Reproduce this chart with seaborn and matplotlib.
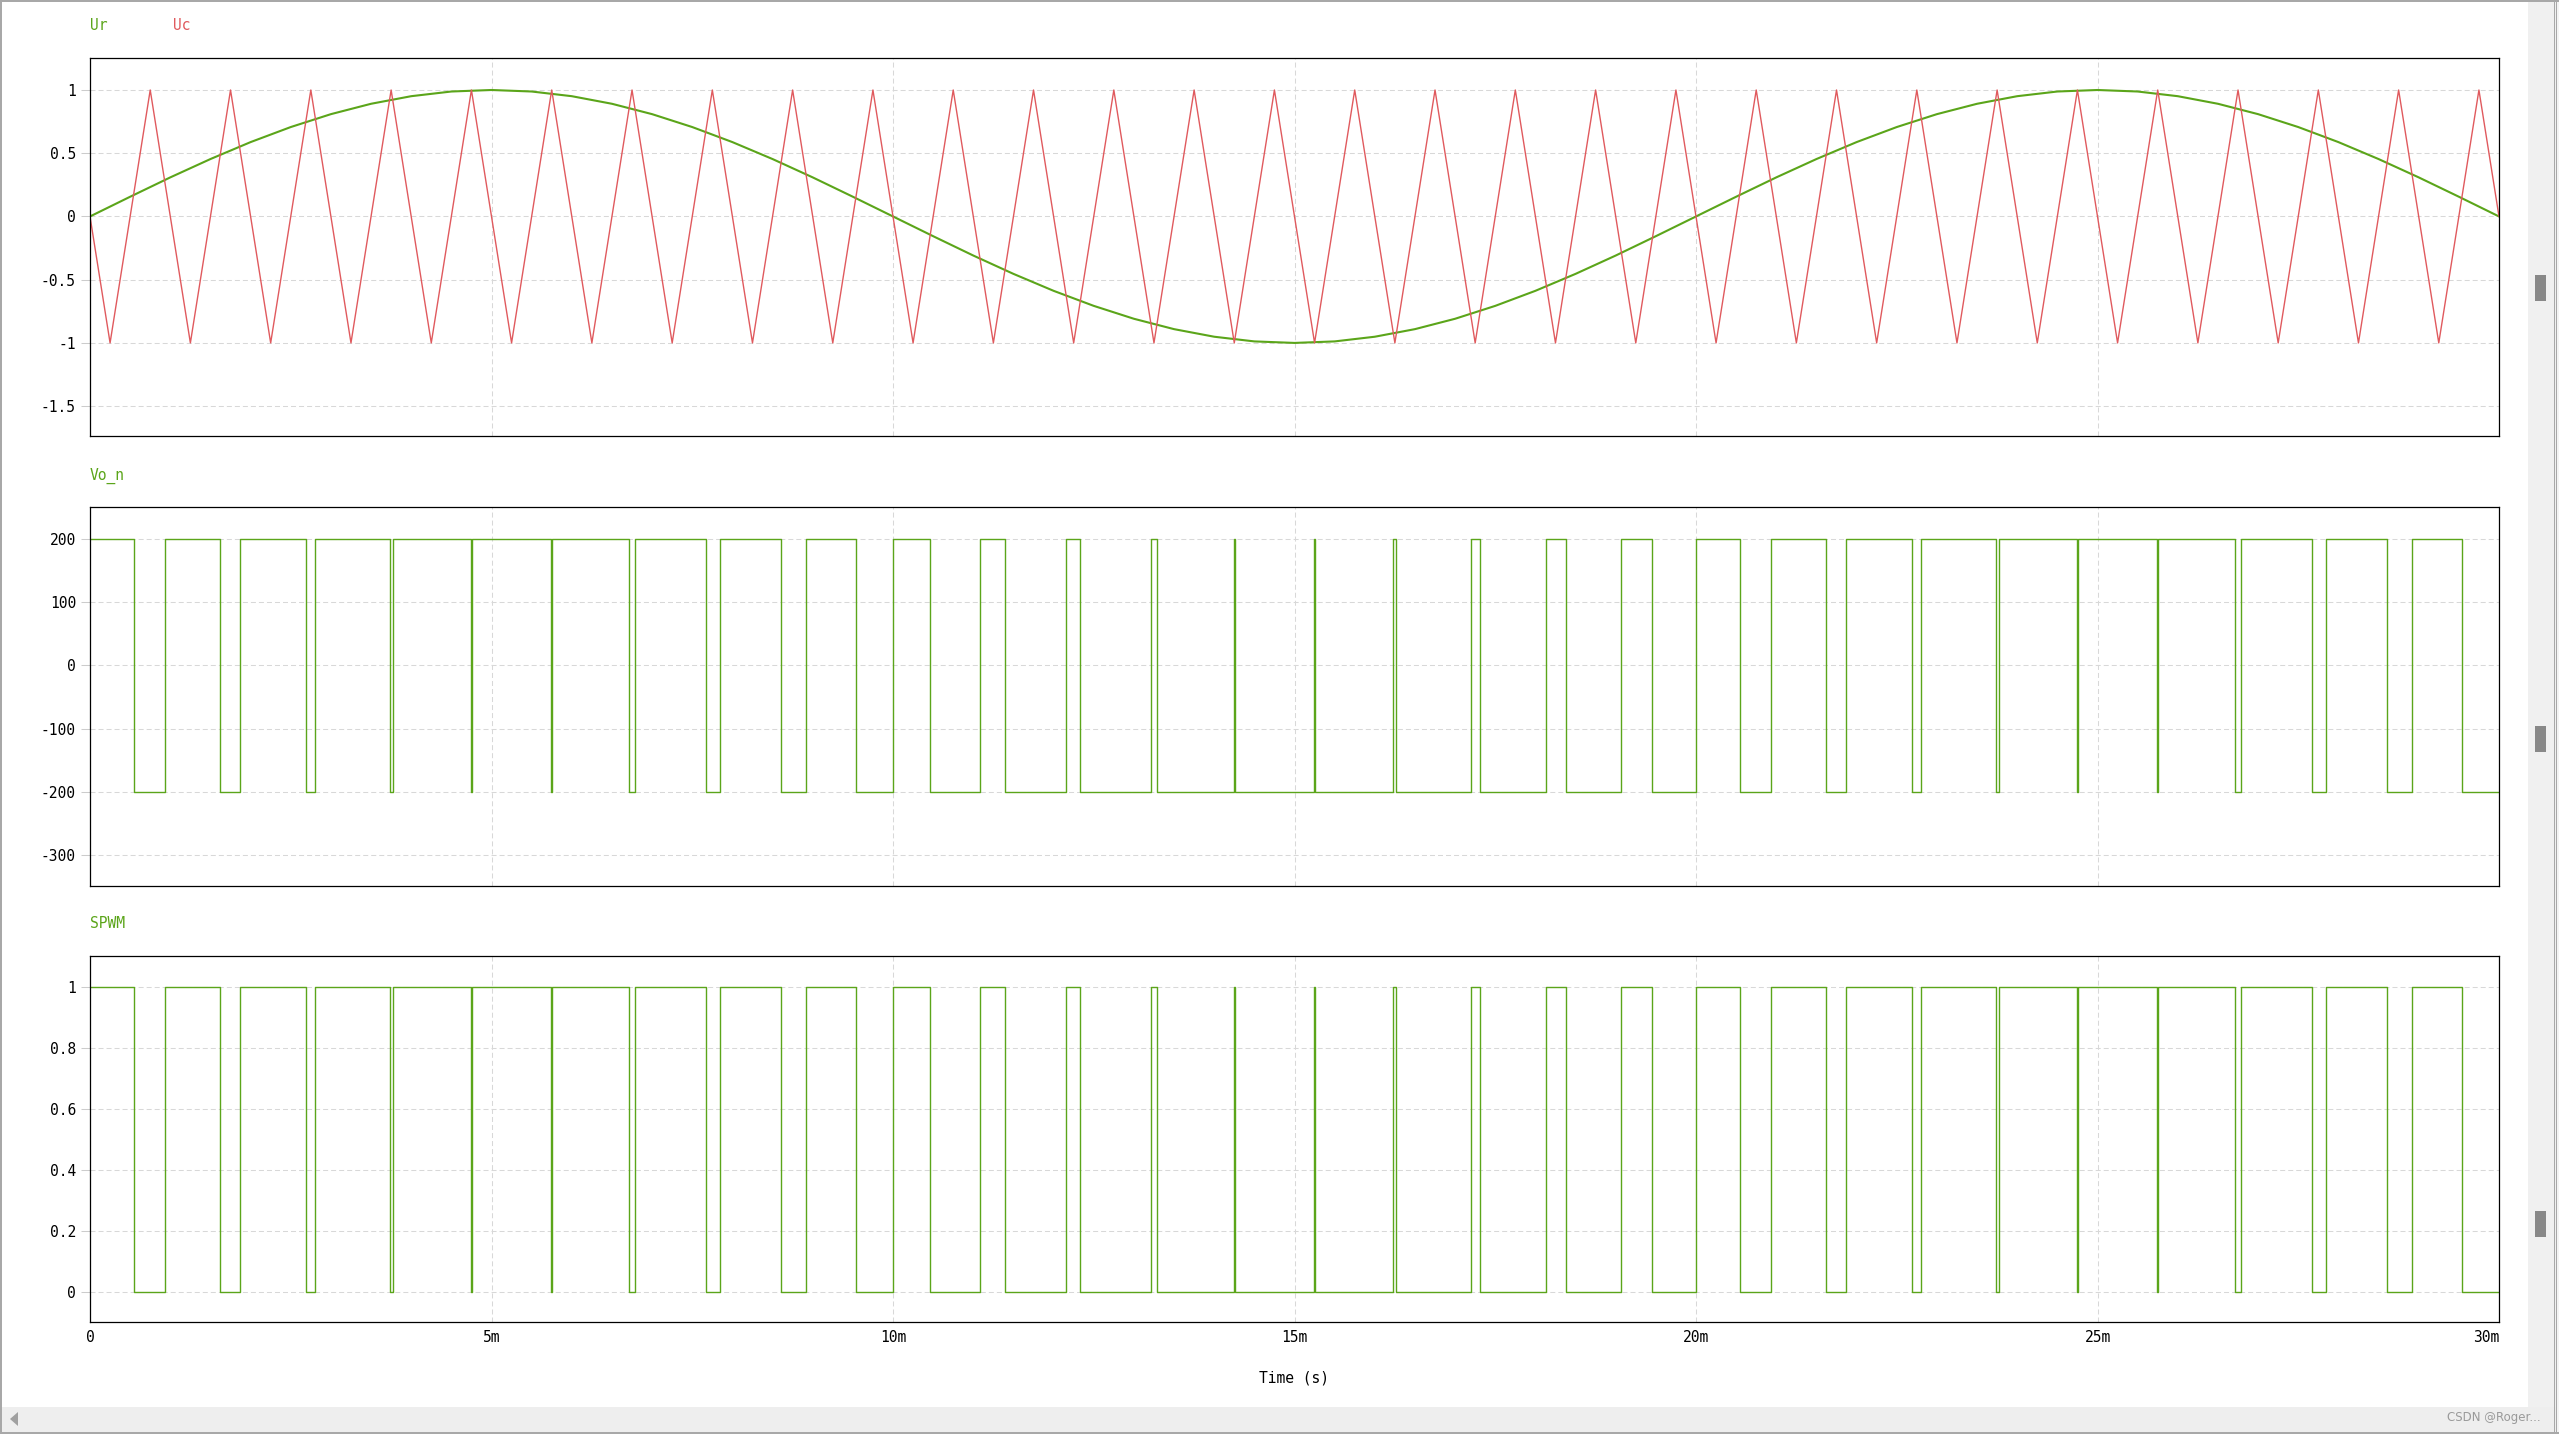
import matplotlib
matplotlib.use("Agg")
import matplotlib.pyplot as plt
from matplotlib.patches import Rectangle, Polygon
import numpy as np
import pandas as pd
import seaborn as sns

# ---------------- data (time in ms) ----------------
ur_time_ms = [0, 0.5, 1, 1.5, 2, 2.5, 3, 3.5, 4, 4.5, 5, 5.5, 6, 6.5, 7, 7.5, 8, 8.5, 9, 9.5,
              10, 10.5, 11, 11.5, 12, 12.5, 13, 13.5, 14, 14.5, 15, 15.5, 16, 16.5, 17, 17.5,
              18, 18.5, 19, 19.5, 20, 20.5, 21, 21.5, 22, 22.5, 23, 23.5, 24, 24.5, 25, 25.5,
              26, 26.5, 27, 27.5, 28, 28.5, 29, 29.5, 30]
ur_values = [0, 0.156, 0.309, 0.454, 0.588, 0.707, 0.809, 0.891, 0.951, 0.988,
             1.0, 0.988, 0.951, 0.891, 0.809, 0.707, 0.588, 0.454, 0.309, 0.156,
             0, -0.156, -0.309, -0.454, -0.588, -0.707, -0.809, -0.891, -0.951, -0.988,
             -1.0, -0.988, -0.951, -0.891, -0.809, -0.707, -0.588, -0.454, -0.309, -0.156,
             0, 0.156, 0.309, 0.454, 0.588, 0.707, 0.809, 0.891, 0.951, 0.988,
             1.0, 0.988, 0.951, 0.891, 0.809, 0.707, 0.588, 0.454, 0.309, 0.156, 0]

uc_time_ms = [0, 0.25, 0.75, 1.25, 1.75, 2.25, 2.75, 3.25, 3.75, 4.25, 4.75, 5.25, 5.75,
              6.25, 6.75, 7.25, 7.75, 8.25, 8.75, 9.25, 9.75, 10.25, 10.75, 11.25, 11.75,
              12.25, 12.75, 13.25, 13.75, 14.25, 14.75, 15.25, 15.75, 16.25, 16.75, 17.25,
              17.75, 18.25, 18.75, 19.25, 19.75, 20.25, 20.75, 21.25, 21.75, 22.25, 22.75,
              23.25, 23.75, 24.25, 24.75, 25.25, 25.75, 26.25, 26.75, 27.25, 27.75, 28.25,
              28.75, 29.25, 29.75, 30]
uc_values = [0,
             -1, 1, -1, 1, -1, 1, -1, 1, -1, 1, -1, 1, -1, 1, -1, 1, -1, 1, -1, 1,
             -1, 1, -1, 1, -1, 1, -1, 1, -1, 1, -1, 1, -1, 1, -1, 1, -1, 1, -1, 1,
             -1, 1, -1, 1, -1, 1, -1, 1, -1, 1, -1, 1, -1, 1, -1, 1, -1, 1, -1, 1,
             0]

# switching instants of the SPWM signal (ms)
spwm_fall_ms = [0.542, 1.622, 2.687, 3.730, 4.749, 5.743, 6.715, 7.667, 8.606, 9.536,
                10.464, 11.394, 12.333, 13.285, 14.257, 15.251, 16.270, 17.313, 18.378, 19.458,
                20.542, 21.622, 22.687, 23.730, 24.749, 25.743, 26.715, 27.667, 28.606, 29.536]
spwm_rise_ms = [0.928, 1.862, 2.807, 3.768, 4.751, 5.757, 6.788, 7.843, 8.917, 10.000,
                11.083, 12.157, 13.212, 14.243, 15.249, 16.232, 17.193, 18.138, 19.072, 20.000,
                20.928, 21.862, 22.807, 23.768, 24.751, 25.757, 26.788, 27.843, 28.917]
spwm_levels = [1, 0]
von_levels = [200, -200]

x_ticks = [0, 5, 10, 15, 20, 25, 30]
x_tick_labels = ["0", "5m", "10m", "15m", "20m", "25m", "30m"]
top_yticks = [1, 0.5, 0, -0.5, -1, -1.5]
top_ylabels = ["1", "0.5", "0", "-0.5", "-1", "-1.5"]
mid_yticks = [200, 100, 0, -100, -200, -300]
mid_ylabels = ["200", "100", "0", "-100", "-200", "-300"]
bot_yticks = [1, 0.8, 0.6, 0.4, 0.2, 0]
bot_ylabels = ["1", "0.8", "0.6", "0.4", "0.2", "0"]

# ---------------- style ----------------
GREEN = "#5ba51a"
RED = "#e05a5e"
GRID = "#d8d8d8"
MONO = "DejaVu Sans Mono"

sns.set_theme(style="white")
plt.rcParams["font.family"] = [MONO]

W, H = 2559, 1434
fig = plt.figure(figsize=(W / 100, H / 100), dpi=100)
fig.patch.set_facecolor("white")


def px_rect(x0, y0, x1, y1, color, z=0):
    fig.add_artist(Rectangle((x0 / W, 1 - y1 / H), (x1 - x0) / W, (y1 - y0) / H,
                             transform=fig.transFigure, facecolor=color,
                             edgecolor="none", zorder=z))


def make_axes(top, bottom):
    return fig.add_axes([90 / W, 1 - bottom / H, 2409 / W, (bottom - top) / H])


def pwm_frame(falls, rises, levels, t_end):
    hi, lo = levels
    events = sorted([(t, lo) for t in falls] + [(t, hi) for t in rises])
    ts, vs, cur = [0.0], [hi], hi
    for t, v in events:
        ts += [t, t]
        vs += [cur, v]
        cur = v
    ts.append(t_end)
    vs.append(cur)
    return pd.DataFrame({"t": ts, "v": vs})


def style_axes(ax, ylim, yticks, ylabels, show_x):
    ax.set_facecolor("white")
    ax.set_xlim(0, 30)
    ax.set_ylim(*ylim)
    ax.set_xticks(x_ticks)
    ax.set_yticks(yticks)
    ax.set_yticklabels(ylabels)
    if show_x:
        ax.set_xticklabels(x_tick_labels)
        labs = ax.get_xticklabels()
        labs[-1].set_horizontalalignment("right")
    else:
        ax.set_xticklabels([])
    ax.set_xlabel("")
    ax.set_ylabel("")
    ax.set_axisbelow(True)
    ax.grid(True, color=GRID, linestyle=(0, (4.8, 2.9)), linewidth=0.75)
    for s in ax.spines.values():
        s.set_visible(True)
        s.set_color("black")
        s.set_linewidth(0.9)
    ax.tick_params(axis="y", left=True, direction="out", length=6.5, width=0.75,
                   color="#cccccc", pad=3.6, labelsize=10.5, labelcolor="black")
    ax.tick_params(axis="x", bottom=False, length=0, pad=6, labelsize=10.5,
                   labelcolor="black")
    for lab in ax.get_xticklabels() + ax.get_yticklabels():
        lab.set_fontfamily(MONO)


# ---------------- top panel ----------------
ax1 = make_axes(58, 436)
df_ur = pd.DataFrame({"t": ur_time_ms, "v": ur_values})
df_uc = pd.DataFrame({"t": uc_time_ms, "v": uc_values})
sns.lineplot(data=df_ur, x="t", y="v", ax=ax1, color=GREEN, lw=1.5, sort=False,
             estimator=None, legend=False)
sns.lineplot(data=df_uc, x="t", y="v", ax=ax1, color=RED, lw=1.0, sort=False,
             estimator=None, legend=False)
style_axes(ax1, (-1.736, 1.253), top_yticks, top_ylabels, False)

# ---------------- middle panel ----------------
ax2 = make_axes(507, 886)
df_von = pwm_frame(spwm_fall_ms, spwm_rise_ms, von_levels, 30)
sns.lineplot(data=df_von, x="t", y="v", ax=ax2, color=GREEN, lw=1.0, sort=False,
             estimator=None, legend=False)
style_axes(ax2, (-348.5, 250.5), mid_yticks, mid_ylabels, False)

# ---------------- bottom panel ----------------
ax3 = make_axes(956, 1322)
df_spwm = pwm_frame(spwm_fall_ms, spwm_rise_ms, spwm_levels, 30)
sns.lineplot(data=df_spwm, x="t", y="v", ax=ax3, color=GREEN, lw=1.0, sort=False,
             estimator=None, legend=False)
style_axes(ax3, (-0.098, 1.1016), bot_yticks, bot_ylabels, True)

# ---------------- labels ----------------
lab_kw = dict(fontsize=10.5, family=MONO, va="center", ha="left")
fig.text(90 / W, 1 - 26 / H, "Ur", color=GREEN, **lab_kw)
fig.text(173 / W, 1 - 26 / H, "Uc", color=RED, **lab_kw)
fig.text(90 / W, 1 - 476 / H, "Vo_n", color=GREEN, **lab_kw)
fig.text(90 / W, 1 - 924 / H, "SPWM", color=GREEN, **lab_kw)
fig.text(1294 / W, 1 - 1378 / H, "Time (s)", ha="center", va="center",
         fontsize=10.5, family=MONO, color="black")

# ---------------- window chrome ----------------
px_rect(2528, 0, 2559, 1434, "#f0f0f0")
px_rect(0, 1407, 2559, 1434, "#eeeeee")
px_rect(2554, 0, 2555, 1434, "#a8a8a8")
px_rect(2556, 0, 2557, 1434, "#a8a8a8")
px_rect(2557, 0, 2559, 1434, "#f4f4f4")
px_rect(0, 0, 2559, 1.5, "#a8a8a8")
px_rect(0, 0, 1.5, 1434, "#a8a8a8")
px_rect(0, 1432, 2559, 1434, "#a8a8a8")
for (y0, y1) in [(275, 301), (726, 752), (1211, 1237)]:
    px_rect(2535, y0, 2546, y1, "#888888")
fig.add_artist(Polygon([(10 / W, 1 - 1419 / H), (18 / W, 1 - 1412 / H), (18 / W, 1 - 1426 / H)],
                       closed=True, transform=fig.transFigure, facecolor="#a0a0a0",
                       edgecolor="none"))
fig.text(2447 / W, 1 - 1417 / H, "CSDN @Roger...", color="#9a9a9a", fontsize=8.5,
         family="DejaVu Sans", va="center", ha="left")

fig.savefig("out.png", dpi=100, facecolor="white")
